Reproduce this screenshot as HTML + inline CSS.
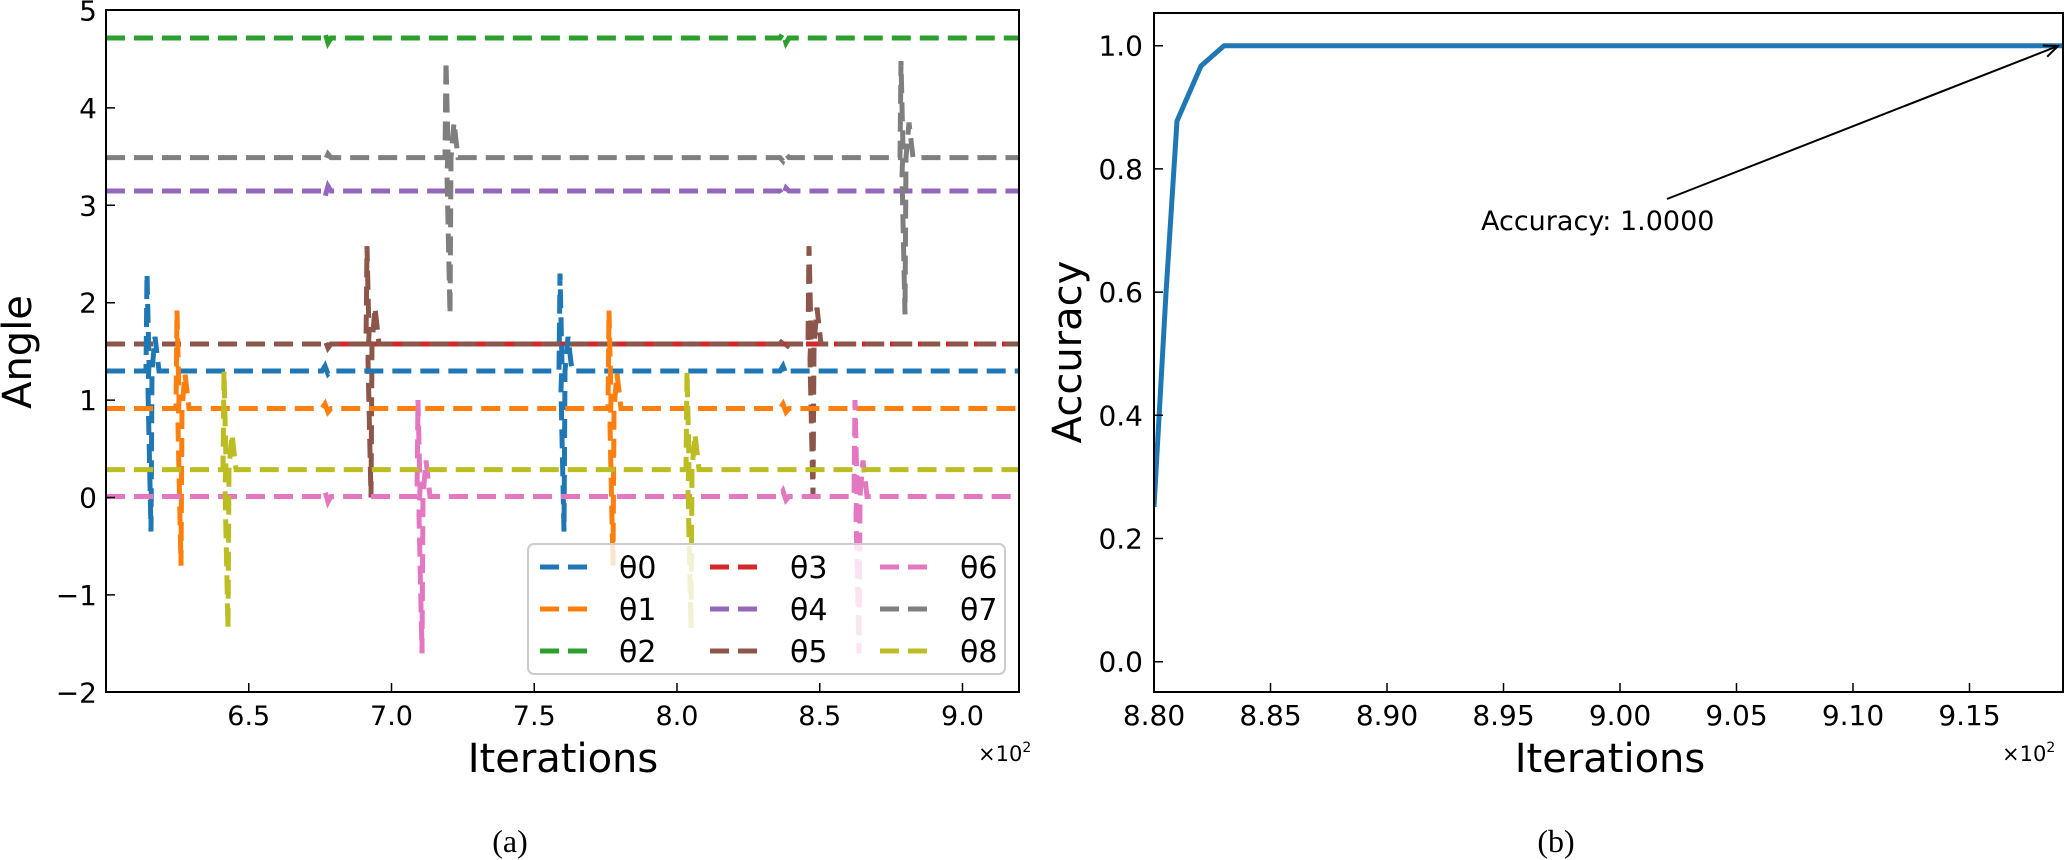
<!DOCTYPE html>
<html><head><meta charset="utf-8"><style>
html,body{margin:0;padding:0;background:#fff}
svg{display:block}
text{font-family:"DejaVu Sans","Liberation Sans",sans-serif;fill:#000}
</style></head><body>
<svg width="2065" height="860" viewBox="0 0 2065 860" xmlns="http://www.w3.org/2000/svg">
<defs>
<clipPath id="cl"><rect x="106" y="10" width="913" height="682"/></clipPath>
<clipPath id="cr"><rect x="1154" y="13" width="909" height="679"/></clipPath>
</defs>
<!-- LEFT PLOT -->
<g clip-path="url(#cl)" fill="none" stroke-width="5" stroke-dasharray="19 9">
<path stroke="#d62728" d="M106 344 L1019 344"/>
<path stroke="#2ca02c" d="M106 38 L322 38 L325 33 L328 43 L331 38 L780 38 L783 33 L786 43 L789 38 L1019 38"/>
<path stroke="#9467bd" d="M106 191 L322 191 L325 197 L328 186 L331 191 L780 191 L783 196 L786 188 L789 191 L1019 191"/>
<path stroke="#7f7f7f" d="M106 157.6 L322 157.6 L325 161 L328 154 L331 157.6 L445 157.6 L446 61 L448 149.7 L447 175 L450 314.4 L451 157.6 L454 122.5 L456 140 L458 157.6 L780 157.6 L783 161 L786 154 L789 157.6 L900 157.6 L901 61 L903 149.7 L902 175 L905 314.4 L906 157.6 L909 122.5 L911 140 L913 157.6 L1019 157.6"/>
<path stroke="#8c564b" d="M106 344 L322 344 L325 340 L328 348 L331 344 L366 344 L367 246.2 L369 334.2 L368 359.3 L371 497.5 L372 344 L375 307.6 L377 326 L379 344 L780 344 L783 340 L786 348 L789 344 L808 344 L809 246.2 L811 334.2 L810 359.3 L813 497.5 L814 344 L817 307.6 L819 326 L821 344 L1019 344"/>
<path stroke="#1f77b4" d="M106 371 L146 371 L147 273.5 L149 363.8 L148 389.6 L151 531.6 L152 371 L155 336.8 L157 354 L159 371 L322 371 L325 366 L328 374 L331 371 L559 371 L560 273.5 L562 363.8 L561 389.6 L564 531.6 L565 371 L568 336.8 L570 354 L572 371 L780 371 L783 366 L786 374 L789 371 L1019 371"/>
<path stroke="#ff7f0e" d="M106 408.5 L176 408.5 L177 310.5 L179 399.8 L178 425.3 L181 565.7 L182 408.5 L185 373.8 L187 391 L189 408.5 L322 408.5 L325 404 L328 412 L331 408.5 L608 408.5 L609 310.5 L611 399.8 L610 425.3 L613 565.7 L614 408.5 L617 373.8 L619 391 L621 408.5 L780 408.5 L783 404 L786 412 L789 408.5 L1019 408.5"/>
<path stroke="#e377c2" d="M106 496.5 L322 496.5 L325 491 L328 502 L331 496.5 L417 496.5 L418 400 L420 488.7 L419 514 L422 653.3 L423 496.5 L426 460.5 L428 478 L430 496.5 L780 496.5 L783 491 L786 500 L789 496.5 L854 496.5 L855 400 L857 488.7 L856 514 L859 653.3 L860 496.5 L863 460.5 L865 478 L867 496.5 L1019 496.5"/>
<path stroke="#bcbd22" d="M106 469.6 L223 469.6 L224 371 L226 461.3 L225 487.1 L228 629 L229 469.6 L232 434.2 L234 452 L236 469.6 L686 469.6 L687 371 L689 461.3 L688 487.1 L691 629 L692 469.6 L695 434.2 L697 452 L699 469.6 L1019 469.6"/>
</g>
<!-- legend -->
<rect x="528" y="544" width="477" height="130" rx="6" fill="#fff" fill-opacity="0.8" stroke="#ccc" stroke-width="2"/>
<g fill="none" stroke-width="5" stroke-dasharray="19 9">
<path stroke="#1f77b4" d="M540 567 L596 567"/>
<path stroke="#ff7f0e" d="M540 609 L596 609"/>
<path stroke="#2ca02c" d="M540 651 L596 651"/>
<path stroke="#d62728" d="M710 567 L766 567"/>
<path stroke="#9467bd" d="M710 609 L766 609"/>
<path stroke="#8c564b" d="M710 651 L766 651"/>
<path stroke="#e377c2" d="M880 567 L936 567"/>
<path stroke="#7f7f7f" d="M880 609 L936 609"/>
<path stroke="#bcbd22" d="M880 651 L936 651"/>
</g>
<g font-size="30">
<text x="619" y="578">θ0</text><text x="619" y="620">θ1</text><text x="619" y="662">θ2</text>
<text x="790" y="578">θ3</text><text x="790" y="620">θ4</text><text x="790" y="662">θ5</text>
<text x="960" y="578">θ6</text><text x="960" y="620">θ7</text><text x="960" y="662">θ8</text>
</g>
<rect x="106" y="10" width="913" height="682" fill="none" stroke="#000" stroke-width="2"/>
<g stroke="#000" stroke-width="1.5">
<path d="M106 107.9h9M106 205.3h9M106 302.7h9M106 400.1h9M106 497.5h9M106 594.9h9"/>
<path d="M248.75 692v-9M391.5 692v-9M534.25 692v-9M677 692v-9M819.75 692v-9M962.5 692v-9"/>
</g>
<g font-size="28" text-anchor="end">
<text x="97" y="20.5">5</text><text x="97" y="117.9">4</text><text x="97" y="215.3">3</text>
<text x="97" y="312.7">2</text><text x="97" y="410.1">1</text><text x="97" y="507.5">0</text>
<text x="97" y="604.9">−1</text><text x="97" y="702.3">−2</text>
</g>
<g font-size="27" text-anchor="middle">
<text x="248.75" y="725">6.5</text><text x="391.5" y="725">7.0</text><text x="534.25" y="725">7.5</text>
<text x="677" y="725">8.0</text><text x="819.75" y="725">8.5</text><text x="962.5" y="725">9.0</text>
</g>
<text x="563" y="772" font-size="40" text-anchor="middle">Iterations</text>
<text x="978" y="761" font-size="21">×10<tspan font-size="14" dy="-9">2</tspan></text>
<text transform="translate(31 352) rotate(-90)" font-size="40" text-anchor="middle">Angle</text>
<text x="510" y="852" font-size="32" text-anchor="middle" style="font-family:'Liberation Serif','DejaVu Serif',serif">(a)</text>

<!-- RIGHT PLOT -->
<g clip-path="url(#cr)">
<path d="M1154 507 L1166 293 L1177 121 L1201 66 L1224 45.7 L2063 45.7" fill="none" stroke="#1f77b4" stroke-width="5" stroke-linejoin="round"/>
</g>
<rect x="1154" y="13" width="909" height="679" fill="none" stroke="#000" stroke-width="2"/>
<g stroke="#000" stroke-width="1.5">
<path d="M1154 661.7h9M1154 538.5h9M1154 415.3h9M1154 292.1h9M1154 168.9h9M1154 45.7h9"/>
<path d="M1270.5 692v-9M1387 692v-9M1503.5 692v-9M1620 692v-9M1736.5 692v-9M1853 692v-9M1969.5 692v-9"/>
</g>
<g font-size="28" text-anchor="end">
<text x="1143" y="671.7">0.0</text><text x="1143" y="548.5">0.2</text><text x="1143" y="425.3">0.4</text>
<text x="1143" y="302.1">0.6</text><text x="1143" y="178.9">0.8</text><text x="1143" y="55.7">1.0</text>
</g>
<g font-size="28" text-anchor="middle">
<text x="1154" y="725">8.80</text><text x="1270.5" y="725">8.85</text><text x="1387" y="725">8.90</text>
<text x="1503.5" y="725">8.95</text><text x="1620" y="725">9.00</text><text x="1736.5" y="725">9.05</text>
<text x="1853" y="725">9.10</text><text x="1969.5" y="725">9.15</text>
</g>
<text x="1610" y="772" font-size="40" text-anchor="middle">Iterations</text>
<text x="2002" y="761" font-size="21">×10<tspan font-size="14" dy="-9">2</tspan></text>
<text transform="translate(1081 352) rotate(-90)" font-size="40" text-anchor="middle">Accuracy</text>
<text x="1481" y="230" font-size="27">Accuracy: 1.0000</text>
<g stroke="#000" stroke-width="2" fill="none">
<path d="M1667 199 L2058 46"/>
<path d="M2047.2 56.7 L2058 46 L2042.8 45.5"/>
</g>
<text x="1556" y="852" font-size="32" text-anchor="middle" style="font-family:'Liberation Serif','DejaVu Serif',serif">(b)</text>
</svg>
</body></html>
